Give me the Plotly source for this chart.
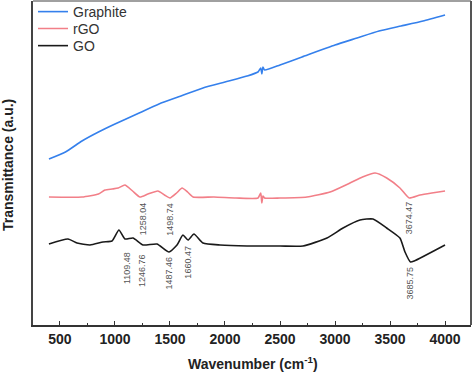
import plotly.graph_objects as go

# ---- data (arbitrary transmittance units) ----
graphite_x = [400, 550, 700, 850, 1000, 1200, 1400, 1600, 1800, 2000, 2200, 2300, 2325, 2335, 2345, 2360,
              2500, 2700, 3000, 3200, 3400, 3600, 3800, 4000]
graphite_y = [166, 173, 184, 193, 201, 211, 221, 229, 237, 243, 249, 253, 257, 251, 258, 255,
              260, 268, 280, 287, 294, 299, 304, 310]

rgo_x = [400, 700, 850, 910, 975, 1030, 1090, 1160, 1227, 1300, 1390, 1450, 1500, 1560, 1610, 1660, 1710,
         1900, 2100, 2300, 2325, 2335, 2345, 2360, 2500, 2745, 2955, 3136, 3250, 3364, 3470, 3590, 3674,
         3773, 3880, 4000]
rgo_y = [128, 128, 131, 135, 136, 137, 140, 134, 128, 131, 134, 130, 127, 132, 137, 133, 128,
         128, 127, 127, 132, 122, 129, 127, 127, 128, 133, 142, 148, 152, 147, 137, 127,
         130, 132, 134]

go_x = [400, 573, 655, 773, 891, 973, 1036, 1091, 1164, 1255, 1382, 1491, 1564, 1618, 1664, 1718, 1800,
        1955, 2200, 2500, 2709, 2927, 3073, 3227, 3345, 3470, 3590, 3636, 3686, 3720, 4000]
go_y = [81, 86, 82, 80, 83, 84, 95, 86, 87, 80, 81, 73, 80, 90, 85, 91, 82,
        80, 79, 79, 79, 87, 97, 105, 106, 97, 87, 73, 63, 64, 80]

peak_labels = ["1109.48", "1246.76", "1487.46", "1660.47", "1258.04", "1498.74", "3674.47", "3685.75"]
peak_x = [1109.48, 1246.76, 1487.46, 1660.47, 1258.04, 1498.74, 3674.47, 3685.75]
peak_label_y = [57, 54, 52, 63, 106, 106, 107, 42]

x_ticks = [500, 1000, 1500, 2000, 2500, 3000, 3500, 4000]

FONT = "Liberation Sans, Arial, sans-serif"

fig = go.Figure()
fig.add_trace(go.Scatter(x=graphite_x, y=graphite_y, mode="lines", name="Graphite", legend="legend",
                         line=dict(color="#3580ec", width=1.6, shape="spline", smoothing=0.5)))
fig.add_trace(go.Scatter(x=rgo_x, y=rgo_y, mode="lines", name="rGO", legend="legend2",
                         line=dict(color="#f27f88", width=1.6, shape="spline", smoothing=0.5)))
fig.add_trace(go.Scatter(x=go_x, y=go_y, mode="lines", name="GO", legend="legend3",
                         line=dict(color="#1a1a1a", width=1.6, shape="spline", smoothing=0.5)))

for lab, px, py in zip(peak_labels, peak_x, peak_label_y):
    fig.add_annotation(x=px, y=py, text=lab, textangle=-90, showarrow=False,
                       font=dict(family=FONT, size=9, color="#555555"))

# axis titles
fig.add_annotation(xref="paper", yref="paper", x=0.5, y=0, yshift=-38, xshift=1,
                   text="<b>Wavenumber (cm<sup>-1</sup>)</b>", showarrow=False,
                   font=dict(family=FONT, size=14, color="#222222"), yanchor="middle")
fig.add_annotation(xref="paper", yref="paper", x=0, y=0.5, xshift=-25, yshift=-2, textangle=-90,
                   text="<b>Transmittance (a.u.)</b>", showarrow=False,
                   font=dict(family=FONT, size=14, color="#222222"), xanchor="center")

# top and right frame lines
fig.add_shape(type="line", xref="paper", yref="paper", x0=0, x1=1, y0=1, y1=1,
              line=dict(color="#a0a0a0", width=2))
fig.add_shape(type="line", xref="paper", yref="paper", x0=1, x1=1, y0=0, y1=1,
              line=dict(color="#555555", width=2))

leg_common = dict(x=0.0, xanchor="left", yanchor="middle", bgcolor="rgba(0,0,0,0)",
                  font=dict(family=FONT, size=14, color="#333333"), itemwidth=30)

fig.update_layout(
    width=474, height=372,
    margin=dict(l=33, r=3, t=1, b=47, autoexpand=False),
    paper_bgcolor="white", plot_bgcolor="white",
    font=dict(family=FONT, size=12, color="#222222"),
    showlegend=True,
    legend=dict(y=0.966, **leg_common),
    legend2=dict(y=0.914, **leg_common),
    legend3=dict(y=0.861, **leg_common),
    xaxis=dict(range=[255, 4236], tickvals=x_ticks, ticks="inside", ticklen=4, tickwidth=1,
               tickcolor="#333333", automargin=False,
               minor=dict(dtick=250, tick0=250, ticks="inside", ticklen=2, tickcolor="#333333"),
               showline=True, linecolor="#333333", linewidth=1.5, showgrid=False, zeroline=False,
               tickfont=dict(family=FONT, size=14, color="#222222", weight="bold")),
    yaxis=dict(range=[0, 324], showticklabels=False, ticks="", showline=True, linecolor="#444444",
               linewidth=1.5, showgrid=False, zeroline=False, automargin=False),
)

fig.write_html("out.html", config={"displayModeBar": False},
               post_script="document.body.style.margin='0';document.body.style.overflow='hidden';")
